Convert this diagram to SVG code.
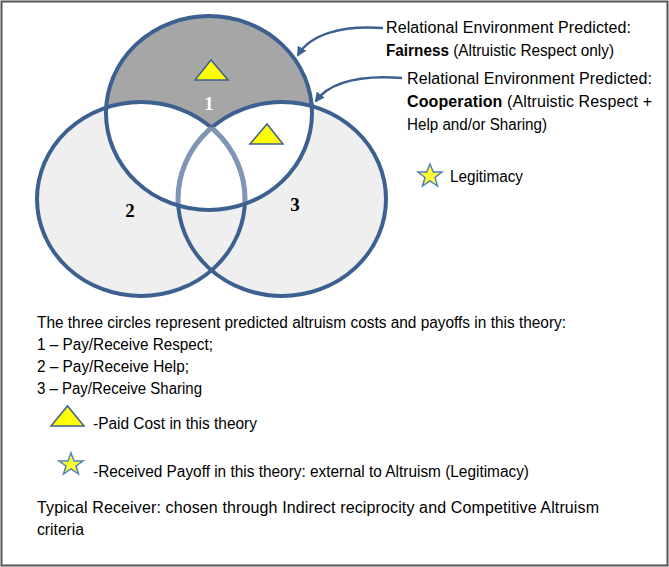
<svg xmlns="http://www.w3.org/2000/svg" width="669" height="567" viewBox="0 0 669 567">
<style>
.c{fill:none;stroke:#3c6090;stroke-width:4}
.t{font-family:"Liberation Sans",Arial,sans-serif;font-size:16px;fill:#000}
.n{font-family:"Liberation Serif",serif;font-size:19px;font-weight:bold}
.tri{fill:#ffff00;stroke:#3c6090;stroke-width:1.5}
.star{fill:#ffff33;stroke:#4f81bd;stroke-width:1.5}
.arr{fill:none;stroke:#3c6090;stroke-width:2.5}
</style>
<defs>
<clipPath id="k1"><ellipse cx="209" cy="113" rx="103" ry="97"/></clipPath>
<clipPath id="k2"><ellipse cx="141" cy="199" rx="104" ry="97"/></clipPath>
<clipPath id="k3"><ellipse cx="282" cy="199" rx="104" ry="97"/></clipPath>
<marker id="ah" viewBox="0 0 10 10" refX="8" refY="5" markerWidth="4" markerHeight="4" orient="auto"><path d="M0,0L10,5L0,10z" fill="#3c6090"/></marker>
</defs>
<rect x="1.5" y="1.5" width="666" height="564" fill="#fff" stroke="#555" stroke-width="2"/>
<g id="circles">
<ellipse cx="141" cy="199" rx="104" ry="97" fill="#efefef"/>
<ellipse cx="282" cy="199" rx="104" ry="97" fill="#efefef"/>
<ellipse cx="209" cy="113" rx="103" ry="97" fill="#a6a6a6"/>
<g clip-path="url(#k1)">
<ellipse cx="141" cy="199" rx="104" ry="97" fill="#fff"/>
<ellipse cx="282" cy="199" rx="104" ry="97" fill="#fff"/>
</g>
<ellipse class="c" cx="141" cy="199" rx="104" ry="97"/>
<ellipse class="c" cx="282" cy="199" rx="104" ry="97"/>
<g clip-path="url(#k1)"><g clip-path="url(#k3)"><ellipse cx="141" cy="199" rx="104" ry="97" fill="none" stroke="#8196b4" stroke-width="5"/></g></g>
<g clip-path="url(#k1)"><g clip-path="url(#k2)"><ellipse cx="282" cy="199" rx="104" ry="97" fill="none" stroke="#8196b4" stroke-width="5"/></g></g>
<ellipse class="c" cx="209" cy="113" rx="103" ry="97"/>
</g>
<g id="labels">
<text class="n" x="209" y="110" fill="#fff" text-anchor="middle">1</text>
<text class="n" x="130" y="217" text-anchor="middle">2</text>
<text class="n" x="295" y="211" text-anchor="middle">3</text>
<polygon class="tri" points="195,80 228,80 211,60"/>
<polygon class="tri" points="250,144 283,144 267,124"/>
</g>
<g id="connectors">
<path class="arr" d="M383,28 C340,25 310,35 298,55" marker-end="url(#ah)"/>
<path class="arr" d="M402,78 C360,75 330,82 316,101" marker-end="url(#ah)"/>
</g>
<g id="annot-fairness">
<text class="t" x="386" y="33" textLength="245" lengthAdjust="spacing">Relational Environment Predicted:</text>
<text class="t" x="386" y="56" textLength="228" lengthAdjust="spacingAndGlyphs"><tspan font-weight="bold">Fairness</tspan> (Altruistic Respect only)</text>
</g>
<g id="annot-coop">
<text class="t" x="407" y="84" textLength="245" lengthAdjust="spacing">Relational Environment Predicted:</text>
<text class="t" x="407" y="107" textLength="245" lengthAdjust="spacing"><tspan font-weight="bold">Cooperation</tspan> (Altruistic Respect +</text>
<text class="t" x="407" y="130" textLength="140" lengthAdjust="spacingAndGlyphs">Help and/or Sharing)</text>
</g>
<g id="legit">
<polygon class="star" points="430,164 433.3,172 442,172 435,177.5 437.5,186 430,181 422.5,186 425,177.5 418,172 426.7,172"/>
<text class="t" x="450" y="182" textLength="73" lengthAdjust="spacingAndGlyphs">Legitimacy</text>
</g>
<g id="legend">
<text class="t" x="37" y="328" textLength="529" lengthAdjust="spacingAndGlyphs">The three circles represent predicted altruism costs and payoffs in this theory:</text>
<text class="t" x="37" y="350" textLength="176" lengthAdjust="spacingAndGlyphs">1 – Pay/Receive Respect;</text>
<text class="t" x="37" y="372" textLength="152" lengthAdjust="spacingAndGlyphs">2 – Pay/Receive Help;</text>
<text class="t" x="37" y="394" textLength="165" lengthAdjust="spacingAndGlyphs">3 – Pay/Receive Sharing</text>
<polygon class="tri" points="51,426 84,426 67.5,406"/>
<text class="t" x="93" y="429" textLength="164" lengthAdjust="spacingAndGlyphs">-Paid Cost in this theory</text>
<polygon class="star" points="71,453 74,461 83,461 76,466 78.5,474 71,469 63.5,474 66,466 59,461 68,461"/>
<text class="t" x="93" y="477" textLength="436" lengthAdjust="spacingAndGlyphs">-Received Payoff in this theory: external to Altruism (Legitimacy)</text>
<text class="t" x="37" y="513" textLength="562" lengthAdjust="spacing">Typical Receiver: chosen through Indirect reciprocity and Competitive Altruism</text>
<text class="t" x="37" y="535" textLength="47" lengthAdjust="spacingAndGlyphs">criteria</text>
</g>
</svg>
